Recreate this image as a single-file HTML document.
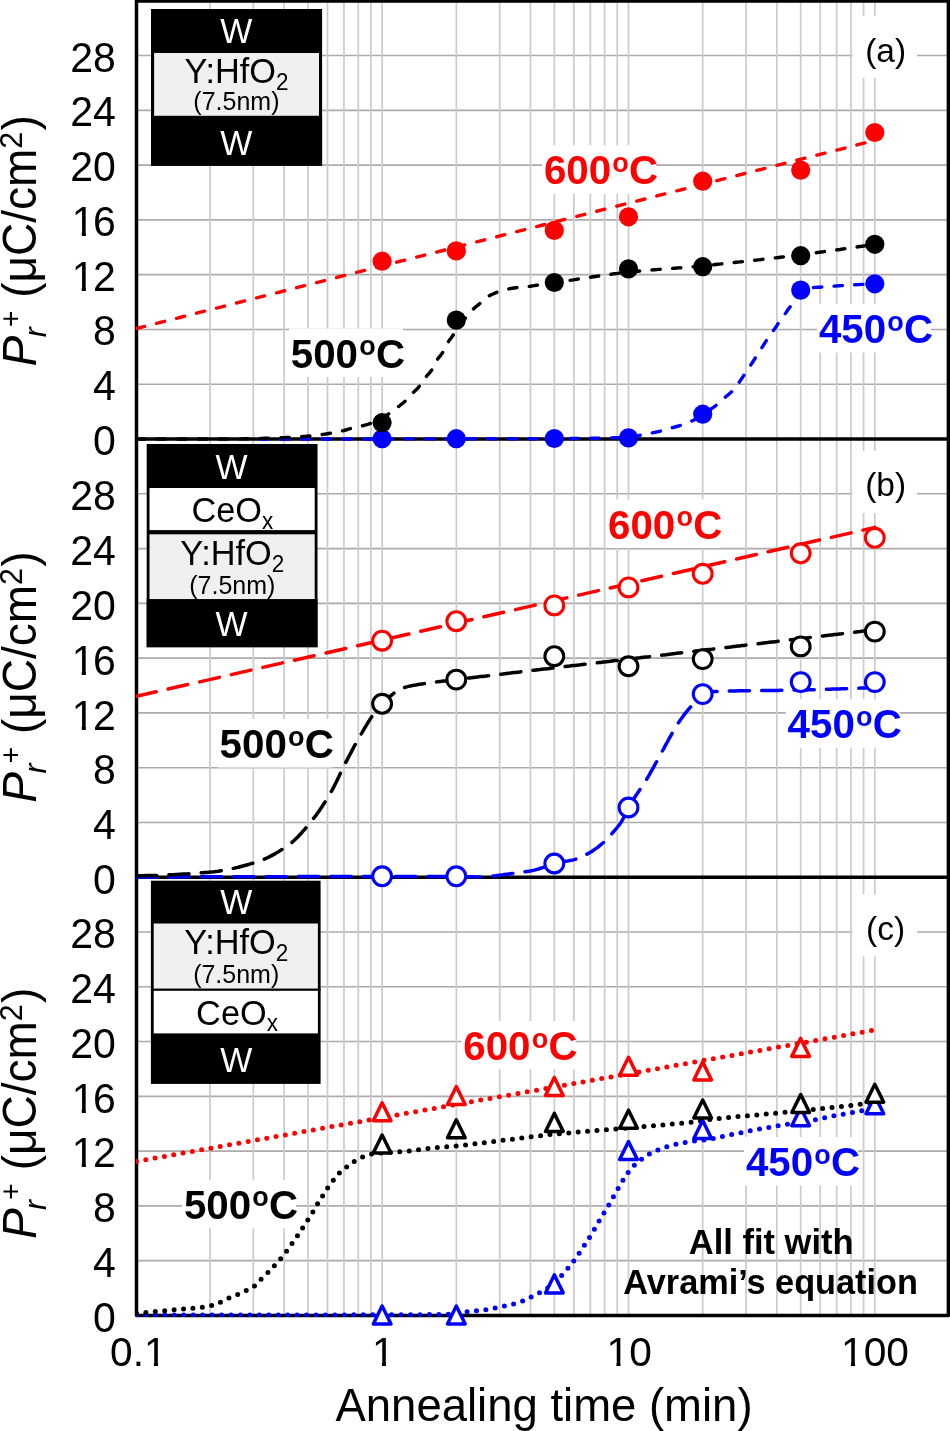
<!DOCTYPE html>
<html lang="en"><head><meta charset="utf-8"><title>Pr+ vs annealing time</title>
<style>html,body{margin:0;padding:0;background:#fff}svg{display:block}</style></head>
<body>
<svg width="950" height="1431" viewBox="0 0 950 1431" font-family="'Liberation Sans', sans-serif">
<rect width="950" height="1431" fill="#fff"/>
<path d="M136.5 384.22H948.4M136.5 329.45H948.4M136.5 274.67H948.4M136.5 219.90H948.4M136.5 165.12H948.4M136.5 110.34H948.4M136.5 55.57H948.4M136.5 822.47H948.4M136.5 767.70H948.4M136.5 712.92H948.4M136.5 658.15H948.4M136.5 603.37H948.4M136.5 548.59H948.4M136.5 493.82H948.4M136.5 1260.67H948.4M136.5 1205.90H948.4M136.5 1151.12H948.4M136.5 1096.35H948.4M136.5 1041.57H948.4M136.5 986.79H948.4M136.5 932.02H948.4" stroke="#aeaaac" stroke-width="1.6" fill="none"/>
<path d="M209.96 0.9V1315.45M253.34 0.9V1315.45M284.12 0.9V1315.45M307.99 0.9V1315.45M327.50 0.9V1315.45M343.99 0.9V1315.45M358.28 0.9V1315.45M370.88 0.9V1315.45M382.15 0.9V1315.45M456.31 0.9V1315.45M499.69 0.9V1315.45M530.47 0.9V1315.45M554.34 0.9V1315.45M573.85 0.9V1315.45M590.34 0.9V1315.45M604.63 0.9V1315.45M617.23 0.9V1315.45M628.50 0.9V1315.45M702.66 0.9V1315.45M746.04 0.9V1315.45M776.82 0.9V1315.45M800.69 0.9V1315.45M820.20 0.9V1315.45M836.69 0.9V1315.45M850.98 0.9V1315.45M863.58 0.9V1315.45M874.85 0.9V1315.45" stroke="#cdcacc" stroke-width="1.7" fill="none"/>
<rect x="852.5" y="16" width="64.5" height="62" fill="#fff"/>
<rect x="852.5" y="451" width="64.5" height="62" fill="#fff"/>
<rect x="852.5" y="894.5" width="64.5" height="62" fill="#fff"/>
<rect x="542.0999999999999" y="145.2" width="114" height="48.5" fill="#fff"/>
<rect x="289.0" y="328.6" width="114" height="48.5" fill="#fff"/>
<rect x="817.0999999999999" y="304.0" width="114" height="48.5" fill="#fff"/>
<rect x="606.1999999999999" y="499.5" width="114" height="48.5" fill="#fff"/>
<rect x="217.8" y="719.0" width="114" height="48.5" fill="#fff"/>
<rect x="785.8" y="699.3" width="114" height="48.5" fill="#fff"/>
<rect x="461.5" y="1021.0" width="114" height="48.5" fill="#fff"/>
<rect x="182.10000000000002" y="1179.8" width="114" height="48.5" fill="#fff"/>
<rect x="744.0999999999999" y="1137.0" width="114" height="48.5" fill="#fff"/>
<rect x="151" y="9" width="171.1" height="156.7" fill="#000"/>
<rect x="154.1" y="53" width="164.9" height="63" fill="#f0f0f0"/>
<text transform="translate(236.4 82.5) scale(1 1.04)" font-size="34.3" fill="#000" text-anchor="middle" >Y:HfO<tspan font-size="22.5" dy="7.1">2</tspan></text>
<text transform="translate(236.4 110.1) scale(1 1.04)" font-size="25" fill="#000" text-anchor="middle" >(7.5nm)</text>
<rect x="151" y="115.8" width="171.1" height="49.9" fill="#000"/>
<text transform="translate(236.4 43.2) scale(1 1.04)" font-size="34" fill="#fff" text-anchor="middle" >W</text>
<text transform="translate(236.4 154.7) scale(1 1.04)" font-size="34" fill="#fff" text-anchor="middle" >W</text>
<rect x="146.7" y="444" width="170.8" height="203.2" fill="#000"/>
<rect x="149.5" y="488" width="165.2" height="42.1" fill="#fff"/>
<rect x="149.5" y="534.3" width="165.2" height="65" fill="#f0f0f0"/>
<text transform="translate(232.3 522.3) scale(1 1.04)" font-size="34.3" fill="#000" text-anchor="middle" >CeO<tspan font-size="22.5" dy="6.3">x</tspan></text>
<text transform="translate(232.3 564.8) scale(1 1.04)" font-size="34.3" fill="#000" text-anchor="middle" >Y:HfO<tspan font-size="22.5" dy="7.1">2</tspan></text>
<text transform="translate(232.3 593.5) scale(1 1.04)" font-size="25" fill="#000" text-anchor="middle" >(7.5nm)</text>
<rect x="146.7" y="599.2" width="170.8" height="48" fill="#000"/>
<text transform="translate(231.5 478.7) scale(1 1.04)" font-size="34" fill="#fff" text-anchor="middle" >W</text>
<text transform="translate(231.5 636) scale(1 1.04)" font-size="34" fill="#fff" text-anchor="middle" >W</text>
<rect x="150.9" y="880.7" width="169.7" height="203.2" fill="#000"/>
<rect x="153.7" y="923.5" width="164.2" height="65.3" fill="#f0f0f0"/>
<text transform="translate(236.2 954) scale(1 1.04)" font-size="34.3" fill="#000" text-anchor="middle" >Y:HfO<tspan font-size="22.5" dy="7.1">2</tspan></text>
<text transform="translate(236.2 982.8) scale(1 1.04)" font-size="25" fill="#000" text-anchor="middle" >(7.5nm)</text>
<rect x="150.9" y="988.7" width="169.7" height="2.2" fill="#000"/>
<rect x="153.7" y="990.8" width="164.2" height="42.6" fill="#fff"/>
<text transform="translate(237 1024.5) scale(1 1.04)" font-size="34.3" fill="#000" text-anchor="middle" >CeO<tspan font-size="22.5" dy="6.3">x</tspan></text>
<text transform="translate(236.2 914) scale(1 1.04)" font-size="34" fill="#fff" text-anchor="middle" >W</text>
<text transform="translate(236.2 1071.9) scale(1 1.04)" font-size="34" fill="#fff" text-anchor="middle" >W</text>
<path d="M136.5 0.9H948.4V1315.45H136.5Z M136.5 439.0H948.4 M136.5 877.25H948.4" stroke="#000" stroke-width="3.5" fill="none" stroke-linejoin="round"/>
<defs><clipPath id="plotclip"><rect x="136.1" y="0" width="815" height="1316.9"/></clipPath><clipPath id="clipba"><rect x="258" y="0" width="700" height="445"/></clipPath></defs>
<path d="M136.5 439.0L138.4 439.0L140.2 439.0L142.1 439.0L143.9 439.0L145.8 439.0L147.6 439.0L149.5 439.0L151.3 439.0L153.2 439.0L155.0 439.0L156.9 439.0L158.7 439.0L160.6 439.0L162.4 439.0L164.3 439.0L166.1 439.0L168.0 439.0L169.8 439.0L171.7 439.0L173.5 439.0L175.4 439.0L177.2 439.0L179.1 439.0L180.9 439.0L182.8 439.0L184.6 439.0L186.5 439.0L188.3 439.0L190.2 439.0L192.0 439.0L193.9 439.0L195.7 439.0L197.6 439.0L199.4 439.0L201.3 439.0L203.1 439.0L205.0 439.0L206.8 439.0L208.7 439.0L210.5 439.0L212.4 439.0L214.2 439.0L216.1 439.0L217.9 439.0L219.8 439.0L221.6 439.0L223.5 439.0L225.3 439.0L227.2 439.0L229.0 439.0L230.9 439.0L232.7 439.0L234.6 439.0L236.4 439.0L238.3 439.0L240.1 439.0L242.0 439.0L243.8 439.0L245.7 439.0L247.5 439.0L249.4 439.0L251.2 439.0L253.1 439.0L254.9 439.0L256.8 439.0L258.6 439.0L260.5 439.0L262.3 439.0L264.2 439.0L266.0 439.0L267.9 439.0L269.7 439.0L271.6 439.0L273.4 439.0L275.3 439.0L277.1 439.0L279.0 439.0L280.8 439.0L282.7 439.0L284.5 439.0L286.4 439.0L288.2 439.0L290.1 439.0L291.9 439.0L293.8 439.0L295.6 439.0L297.5 439.0L299.3 439.0L301.2 439.0L303.0 439.0L304.9 439.0L306.7 439.0L308.6 439.0L310.4 439.0L312.3 439.0L314.1 439.0L316.0 439.0L317.8 439.0L319.7 439.0L321.6 439.0L323.4 439.0L325.3 439.0L327.1 439.0L329.0 439.0L330.8 439.0L332.7 439.0L334.5 439.0L336.4 439.0L338.2 439.0L340.1 439.0L341.9 439.0L343.8 439.0L345.6 439.0L347.5 439.0L349.3 439.0L351.2 439.0L353.0 439.0L354.9 439.0L356.7 439.0L358.6 439.0L360.4 439.0L362.3 439.0L364.1 439.0L366.0 439.0L367.8 439.0L369.7 439.0L371.5 439.0L373.4 439.0L375.2 439.0L377.1 439.0L378.9 439.0L380.8 439.0L382.6 439.0L384.5 439.0L386.3 439.0L388.2 439.0L390.0 439.0L391.9 438.9L393.7 438.9L395.6 438.9L397.4 438.9L399.3 438.9L401.1 438.9L403.0 438.9L404.8 438.9L406.7 438.9L408.5 438.9L410.4 438.9L412.2 438.9L414.1 438.9L415.9 438.9L417.8 438.9L419.6 438.9L421.5 438.9L423.3 438.9L425.2 438.9L427.0 438.9L428.9 438.9L430.7 438.9L432.6 438.9L434.4 438.9L436.3 438.9L438.1 438.9L440.0 438.9L441.8 438.9L443.7 438.9L445.5 438.9L447.4 438.9L449.2 438.9L451.1 438.9L452.9 438.9L454.8 438.9L456.6 438.8L458.5 438.8L460.3 438.8L462.2 438.8L464.0 438.8L465.9 438.8L467.7 438.8L469.6 438.8L471.4 438.8L473.3 438.8L475.1 438.8L477.0 438.8L478.8 438.8L480.7 438.8L482.5 438.8L484.4 438.8L486.2 438.8L488.1 438.8L489.9 438.8L491.8 438.8L493.6 438.8L495.5 438.8L497.3 438.8L499.2 438.8L501.0 438.8L502.9 438.7L504.7 438.7L506.6 438.7L508.5 438.7L510.3 438.7L512.2 438.7L514.0 438.7L515.9 438.7L517.7 438.7L519.6 438.7L521.4 438.7L523.3 438.7L525.1 438.7L527.0 438.7L528.8 438.7L530.7 438.7L532.5 438.7L534.4 438.7L536.2 438.7L538.1 438.7L539.9 438.6L541.8 438.6L543.6 438.6L545.5 438.6L547.3 438.6L549.2 438.6L551.0 438.6L552.9 438.6L554.7 438.6L556.6 438.6L558.4 438.6L560.3 438.6L562.1 438.6L564.0 438.6L565.8 438.5L567.7 438.5L569.5 438.5L571.4 438.5L573.2 438.5L575.1 438.5L576.9 438.5L578.8 438.5L580.6 438.4L582.5 438.4L584.3 438.4L586.2 438.4L588.0 438.4L589.9 438.3L591.7 438.3L593.6 438.3L595.4 438.3L597.3 438.2L599.1 438.2L601.0 438.2L602.8 438.1L604.7 438.1L606.5 438.1L608.4 438.0L610.2 437.9L612.1 437.9L613.9 437.8L615.8 437.7L617.6 437.6L619.5 437.6L621.3 437.5L623.2 437.3L625.0 437.2L626.9 437.1L628.7 437.0L630.6 436.8L632.4 436.6L634.3 436.3L636.1 436.0L638.0 435.7L639.8 435.3L641.7 434.9L643.5 434.6L645.4 434.2L647.2 433.8L649.1 433.5L650.9 433.1L652.8 432.8L654.6 432.4L656.5 432.0L658.3 431.6L660.2 431.1L662.0 430.5L663.9 430.0L665.7 429.4L667.6 428.8L669.4 428.4L671.3 427.9L673.1 427.5L675.0 427.0L676.8 426.5L678.7 426.0L680.5 425.4L682.4 424.7L684.2 424.1L686.1 423.4L687.9 422.7L689.8 421.9L691.7 421.1L693.5 420.2L695.4 419.3L697.2 418.3L699.1 417.2L700.9 416.0L702.8 414.7L704.6 413.5L706.5 412.3L708.3 411.0L710.2 409.7L712.0 408.4L713.9 407.0L715.7 405.6L717.6 404.2L719.4 402.7L721.3 401.0L723.1 399.3L725.0 397.5L726.8 395.8L728.7 394.3L730.5 392.7L732.4 391.0L734.2 389.0L736.1 386.6L737.9 384.0L739.8 381.4L741.6 378.7L743.5 375.9L745.3 373.1L747.2 370.4L749.0 367.6L750.9 364.8L752.7 362.0L754.6 359.1L756.4 356.1L758.3 353.1L760.1 350.2L762.0 347.5L763.8 344.7L765.7 341.7L767.5 338.7L769.4 335.9L771.2 333.4L773.1 331.1L774.9 328.6L776.8 325.7L778.6 322.8L780.5 320.1L782.3 317.6L784.2 315.2L786.0 312.6L787.9 309.8L789.7 307.3L791.6 305.2L793.4 303.3L795.3 301.2L797.1 297.8L799.0 293.1L800.8 290.3L802.7 289.3L804.5 288.7L806.4 288.3L808.2 288.1L810.1 287.9L811.9 287.7L813.8 287.5L815.6 287.4L817.5 287.3L819.3 287.2L821.2 287.1L823.0 286.9L824.9 286.8L826.7 286.7L828.6 286.5L830.4 286.4L832.3 286.3L834.1 286.1L836.0 286.0L837.8 285.9L839.7 285.7L841.5 285.6L843.4 285.5L845.2 285.4L847.1 285.3L848.9 285.1L850.8 285.0L852.6 284.9L854.5 284.8L856.3 284.7L858.2 284.6L860.0 284.5L861.9 284.4L863.7 284.3L865.6 284.2L867.4 284.1L869.3 284.0L871.1 284.0L873.0 283.9L874.8 283.8" stroke="#0000ff" fill="none" stroke-width="3.4" stroke-dasharray="8.3 12.35" stroke-linecap="round" stroke-linejoin="round" clip-path="url(#clipba)"/>
<path d="M136.5 439.0L138.4 439.0L140.2 439.0L142.1 439.0L143.9 439.0L145.8 439.0L147.6 439.0L149.5 439.0L151.3 439.0L153.2 439.0L155.0 439.0L156.9 439.0L158.7 439.0L160.6 439.0L162.4 439.0L164.3 439.0L166.1 439.0L168.0 439.0L169.8 439.0L171.7 439.0L173.5 439.0L175.4 439.0L177.2 439.0L179.1 439.0L180.9 439.0L182.8 439.0L184.6 439.0L186.5 439.0L188.3 439.0L190.2 439.0L192.0 439.0L193.9 439.0L195.7 439.0L197.6 439.0L199.4 439.0L201.3 439.0L203.1 439.0L205.0 439.0L206.8 439.0L208.7 439.0L210.5 439.0L212.4 439.0L214.2 439.0L216.1 439.0L217.9 439.0L219.8 439.0L221.6 439.0L223.5 439.0L225.3 439.0L227.2 439.0L229.0 438.9L230.9 438.9L232.7 438.9L234.6 438.9L236.4 438.9L238.3 438.9L240.1 438.9L242.0 438.9L243.8 438.9L245.7 438.8L247.5 438.8L249.4 438.8L251.2 438.7L253.1 438.7L254.9 438.6L256.8 438.6L258.6 438.5L260.5 438.4L262.3 438.4L264.2 438.3L266.0 438.3L267.9 438.2L269.7 438.2L271.6 438.1L273.4 438.0L275.3 438.0L277.1 437.9L279.0 437.8L280.8 437.7L282.7 437.6L284.5 437.6L286.4 437.5L288.2 437.4L290.1 437.3L291.9 437.2L293.8 437.1L295.6 437.0L297.5 436.9L299.3 436.8L301.2 436.6L303.0 436.5L304.9 436.4L306.7 436.2L308.6 436.0L310.4 435.9L312.3 435.7L314.1 435.5L316.0 435.3L317.8 435.1L319.7 434.9L321.6 434.6L323.4 434.4L325.3 434.1L327.1 433.8L329.0 433.5L330.8 433.2L332.7 432.9L334.5 432.5L336.4 432.2L338.2 431.8L340.1 431.4L341.9 431.0L343.8 430.5L345.6 430.0L347.5 429.5L349.3 428.9L351.2 428.4L353.0 427.9L354.9 427.5L356.7 427.1L358.6 426.6L360.4 426.2L362.3 425.8L364.1 425.3L366.0 424.8L367.8 424.3L369.7 423.7L371.5 423.1L373.4 422.3L375.2 421.5L377.1 420.7L378.9 419.7L380.8 418.8L382.6 417.7L384.5 416.6L386.3 415.5L388.2 414.2L390.0 412.9L391.9 411.6L393.7 410.2L395.6 408.8L397.4 407.4L399.3 406.0L401.1 404.5L403.0 403.0L404.8 401.4L406.7 399.6L408.5 397.6L410.4 395.5L412.2 393.6L414.1 391.8L415.9 390.0L417.8 388.2L419.6 386.1L421.5 383.6L423.3 380.7L425.2 377.9L427.0 375.7L428.9 373.6L430.7 371.4L432.6 368.7L434.4 364.8L436.3 361.1L438.1 358.4L440.0 356.1L441.8 353.8L443.7 350.9L445.5 347.1L447.4 343.4L449.2 340.5L451.1 337.9L452.9 335.4L454.8 332.9L456.6 330.3L458.5 327.7L460.3 325.0L462.2 322.4L464.0 319.9L465.9 317.4L467.7 315.0L469.6 312.8L471.4 310.8L473.3 309.0L475.1 307.4L477.0 305.9L478.8 304.4L480.7 302.7L482.5 301.0L484.4 299.2L486.2 297.7L488.1 296.4L489.9 295.4L491.8 294.5L493.6 293.7L495.5 292.9L497.3 292.2L499.2 291.6L501.0 291.0L502.9 290.4L504.7 289.9L506.6 289.5L508.5 289.0L510.3 288.6L512.2 288.3L514.0 288.0L515.9 287.7L517.7 287.5L519.6 287.4L521.4 287.2L523.3 287.0L525.1 286.9L527.0 286.7L528.8 286.4L530.7 286.2L532.5 285.9L534.4 285.6L536.2 285.3L538.1 285.0L539.9 284.8L541.8 284.5L543.6 284.2L545.5 284.0L547.3 283.7L549.2 283.4L551.0 283.2L552.9 282.9L554.7 282.6L556.6 282.4L558.4 282.1L560.3 281.8L562.1 281.6L564.0 281.3L565.8 281.0L567.7 280.7L569.5 280.4L571.4 280.1L573.2 279.9L575.1 279.6L576.9 279.3L578.8 279.0L580.6 278.7L582.5 278.4L584.3 278.1L586.2 277.9L588.0 277.6L589.9 277.3L591.7 277.0L593.6 276.7L595.4 276.5L597.3 276.2L599.1 275.9L601.0 275.6L602.8 275.4L604.7 275.1L606.5 274.8L608.4 274.6L610.2 274.3L612.1 274.1L613.9 273.8L615.8 273.6L617.6 273.4L619.5 273.1L621.3 272.9L623.2 272.7L625.0 272.5L626.9 272.3L628.7 272.1L630.6 271.9L632.4 271.7L634.3 271.5L636.1 271.3L638.0 271.2L639.8 271.0L641.7 270.8L643.5 270.6L645.4 270.5L647.2 270.3L649.1 270.2L650.9 270.0L652.8 269.9L654.6 269.7L656.5 269.6L658.3 269.4L660.2 269.3L662.0 269.1L663.9 269.0L665.7 268.9L667.6 268.7L669.4 268.6L671.3 268.4L673.1 268.3L675.0 268.2L676.8 268.0L678.7 267.9L680.5 267.7L682.4 267.6L684.2 267.4L686.1 267.3L687.9 267.1L689.8 267.0L691.7 266.8L693.5 266.7L695.4 266.5L697.2 266.3L699.1 266.1L700.9 266.0L702.8 265.8L704.6 265.6L706.5 265.4L708.3 265.2L710.2 265.1L712.0 264.9L713.9 264.7L715.7 264.5L717.6 264.3L719.4 264.1L721.3 263.9L723.1 263.7L725.0 263.5L726.8 263.3L728.7 263.1L730.5 262.9L732.4 262.7L734.2 262.5L736.1 262.3L737.9 262.1L739.8 261.9L741.6 261.7L743.5 261.5L745.3 261.3L747.2 261.1L749.0 260.9L750.9 260.7L752.7 260.5L754.6 260.3L756.4 260.1L758.3 259.9L760.1 259.7L762.0 259.4L763.8 259.2L765.7 259.0L767.5 258.8L769.4 258.6L771.2 258.3L773.1 258.1L774.9 257.9L776.8 257.7L778.6 257.5L780.5 257.2L782.3 257.0L784.2 256.8L786.0 256.6L787.9 256.3L789.7 256.1L791.6 255.9L793.4 255.6L795.3 255.4L797.1 255.2L799.0 254.9L800.8 254.7L802.7 254.5L804.5 254.2L806.4 254.0L808.2 253.7L810.1 253.5L811.9 253.2L813.8 253.0L815.6 252.8L817.5 252.5L819.3 252.3L821.2 252.0L823.0 251.8L824.9 251.5L826.7 251.3L828.6 251.0L830.4 250.8L832.3 250.5L834.1 250.2L836.0 250.0L837.8 249.7L839.7 249.5L841.5 249.2L843.4 248.9L845.2 248.7L847.1 248.4L848.9 248.1L850.8 247.9L852.6 247.6L854.5 247.3L856.3 247.1L858.2 246.8L860.0 246.5L861.9 246.3L863.7 246.0L865.6 245.7L867.4 245.4L869.3 245.1L871.1 244.9L873.0 244.6L874.8 244.3" stroke="#000000" fill="none" stroke-width="3.4" stroke-dasharray="8.3 12.35" stroke-linecap="round" stroke-linejoin="round" clip-path="url(#plotclip)"/>
<path d="M136.5 328.5L874.8499999999999 140.4" stroke="#ff0000" fill="none" stroke-width="3.4" stroke-dasharray="8.3 12.35" stroke-linecap="round" stroke-linejoin="round" clip-path="url(#plotclip)"/>
<path d="M136.5 877.0L138.4 877.0L140.2 877.0L142.1 877.0L143.9 877.0L145.8 877.0L147.6 877.0L149.5 877.0L151.3 876.9L153.2 876.9L155.0 876.9L156.9 876.9L158.7 876.9L160.6 876.9L162.4 876.9L164.3 876.9L166.1 876.9L168.0 876.9L169.8 876.9L171.7 876.9L173.5 876.9L175.4 876.9L177.2 876.9L179.1 876.9L180.9 876.9L182.8 876.9L184.6 876.8L186.5 876.8L188.3 876.8L190.2 876.8L192.0 876.8L193.9 876.8L195.7 876.8L197.6 876.8L199.4 876.8L201.3 876.8L203.1 876.8L205.0 876.8L206.8 876.8L208.7 876.8L210.5 876.8L212.4 876.8L214.2 876.8L216.1 876.8L217.9 876.8L219.8 876.8L221.6 876.8L223.5 876.8L225.3 876.8L227.2 876.7L229.0 876.7L230.9 876.7L232.7 876.7L234.6 876.7L236.4 876.7L238.3 876.7L240.1 876.7L242.0 876.7L243.8 876.7L245.7 876.7L247.5 876.7L249.4 876.7L251.2 876.7L253.1 876.7L254.9 876.7L256.8 876.7L258.6 876.7L260.5 876.7L262.3 876.7L264.2 876.7L266.0 876.7L267.9 876.7L269.7 876.7L271.6 876.7L273.4 876.7L275.3 876.7L277.1 876.7L279.0 876.7L280.8 876.7L282.7 876.7L284.5 876.7L286.4 876.7L288.2 876.7L290.1 876.7L291.9 876.7L293.8 876.7L295.6 876.7L297.5 876.6L299.3 876.6L301.2 876.6L303.0 876.6L304.9 876.6L306.7 876.6L308.6 876.6L310.4 876.6L312.3 876.6L314.1 876.6L316.0 876.6L317.8 876.6L319.7 876.6L321.6 876.6L323.4 876.6L325.3 876.6L327.1 876.6L329.0 876.6L330.8 876.6L332.7 876.6L334.5 876.6L336.4 876.6L338.2 876.6L340.1 876.6L341.9 876.6L343.8 876.6L345.6 876.6L347.5 876.6L349.3 876.6L351.2 876.6L353.0 876.6L354.9 876.6L356.7 876.6L358.6 876.6L360.4 876.6L362.3 876.6L364.1 876.6L366.0 876.6L367.8 876.6L369.7 876.6L371.5 876.6L373.4 876.6L375.2 876.6L377.1 876.6L378.9 876.6L380.8 876.6L382.6 876.6L384.5 876.6L386.3 876.6L388.2 876.6L390.0 876.6L391.9 876.6L393.7 876.6L395.6 876.6L397.4 876.6L399.3 876.6L401.1 876.6L403.0 876.6L404.8 876.6L406.7 876.6L408.5 876.6L410.4 876.6L412.2 876.6L414.1 876.6L415.9 876.6L417.8 876.6L419.6 876.6L421.5 876.6L423.3 876.6L425.2 876.6L427.0 876.6L428.9 876.6L430.7 876.6L432.6 876.6L434.4 876.6L436.3 876.6L438.1 876.6L440.0 876.6L441.8 876.6L443.7 876.6L445.5 876.6L447.4 876.6L449.2 876.6L451.1 876.6L452.9 876.6L454.8 876.6L456.6 876.6L458.5 876.6L460.3 876.6L462.2 876.6L464.0 876.7L465.9 876.7L467.7 876.7L469.6 876.8L471.4 876.8L473.3 876.8L475.1 876.9L477.0 876.9L478.8 876.9L480.7 876.9L482.5 876.9L484.4 876.8L486.2 876.7L488.1 876.6L489.9 876.4L491.8 876.2L493.6 876.0L495.5 875.8L497.3 875.5L499.2 875.3L501.0 875.0L502.9 874.8L504.7 874.5L506.6 874.2L508.5 874.0L510.3 873.7L512.2 873.5L514.0 873.3L515.9 873.0L517.7 872.8L519.6 872.6L521.4 872.3L523.3 872.1L525.1 871.8L527.0 871.5L528.8 871.2L530.7 870.9L532.5 870.5L534.4 870.1L536.2 869.6L538.1 869.1L539.9 868.5L541.8 867.9L543.6 867.4L545.5 866.7L547.3 866.0L549.2 865.2L551.0 864.4L552.9 863.7L554.7 863.2L556.6 862.8L558.4 862.4L560.3 862.1L562.1 861.8L564.0 861.5L565.8 861.2L567.7 861.0L569.5 860.6L571.4 860.3L573.2 859.9L575.1 859.4L576.9 858.8L578.8 858.0L580.6 857.1L582.5 856.2L584.3 855.4L586.2 854.5L588.0 853.6L589.9 852.6L591.7 851.5L593.6 850.2L595.4 848.9L597.3 847.6L599.1 846.1L601.0 844.6L602.8 843.0L604.7 841.2L606.5 839.3L608.4 837.4L610.2 835.4L612.1 833.4L613.9 831.3L615.8 829.2L617.6 827.0L619.5 824.6L621.3 821.9L623.2 818.6L625.0 814.7L626.9 810.7L628.7 807.1L630.6 803.9L632.4 800.9L634.3 798.0L636.1 795.2L638.0 792.4L639.8 789.7L641.7 787.0L643.5 784.3L645.4 781.4L647.2 778.3L649.1 775.1L650.9 771.9L652.8 768.6L654.6 765.2L656.5 761.9L658.3 758.6L660.2 755.2L662.0 751.8L663.9 748.3L665.7 744.9L667.6 741.5L669.4 738.2L671.3 734.8L673.1 731.4L675.0 728.1L676.8 725.2L678.7 722.4L680.5 719.7L682.4 717.2L684.2 714.7L686.1 712.3L687.9 710.0L689.8 707.8L691.7 705.5L693.5 703.0L695.4 700.7L697.2 698.4L699.1 696.5L700.9 695.0L702.8 694.1L704.6 693.5L706.5 692.9L708.3 692.4L710.2 692.1L712.0 691.8L713.9 691.6L715.7 691.5L717.6 691.4L719.4 691.3L721.3 691.3L723.1 691.2L725.0 691.1L726.8 691.1L728.7 691.0L730.5 691.0L732.4 691.0L734.2 690.9L736.1 690.9L737.9 690.8L739.8 690.8L741.6 690.8L743.5 690.7L745.3 690.7L747.2 690.7L749.0 690.7L750.9 690.6L752.7 690.6L754.6 690.6L756.4 690.6L758.3 690.6L760.1 690.5L762.0 690.5L763.8 690.5L765.7 690.5L767.5 690.5L769.4 690.4L771.2 690.4L773.1 690.4L774.9 690.4L776.8 690.4L778.6 690.4L780.5 690.3L782.3 690.3L784.2 690.3L786.0 690.3L787.9 690.2L789.7 690.2L791.6 690.2L793.4 690.1L795.3 690.1L797.1 690.1L799.0 690.0L800.8 690.0L802.7 690.0L804.5 689.9L806.4 689.9L808.2 689.8L810.1 689.8L811.9 689.7L813.8 689.7L815.6 689.6L817.5 689.6L819.3 689.5L821.2 689.5L823.0 689.4L824.9 689.3L826.7 689.3L828.6 689.2L830.4 689.2L832.3 689.1L834.1 689.0L836.0 689.0L837.8 688.9L839.7 688.9L841.5 688.8L843.4 688.7L845.2 688.7L847.1 688.6L848.9 688.5L850.8 688.4L852.6 688.4L854.5 688.3L856.3 688.2L858.2 688.2L860.0 688.1L861.9 688.0L863.7 687.9L865.6 687.9L867.4 687.8L869.3 687.7L871.1 687.7L873.0 687.6L874.8 687.5" stroke="#0000ff" fill="none" stroke-width="3.5" stroke-dasharray="20.2 12.2" stroke-linecap="round" stroke-linejoin="round" clip-path="url(#plotclip)"/>
<path d="M136.5 875.7L138.4 875.7L140.2 875.7L142.1 875.7L143.9 875.7L145.8 875.6L147.6 875.6L149.5 875.6L151.3 875.5L153.2 875.5L155.0 875.4L156.9 875.4L158.7 875.3L160.6 875.2L162.4 875.2L164.3 875.1L166.1 875.0L168.0 874.9L169.8 874.8L171.7 874.7L173.5 874.7L175.4 874.6L177.2 874.5L179.1 874.3L180.9 874.2L182.8 874.1L184.6 874.0L186.5 873.9L188.3 873.8L190.2 873.6L192.0 873.5L193.9 873.4L195.7 873.2L197.6 873.1L199.4 873.0L201.3 872.8L203.1 872.7L205.0 872.5L206.8 872.4L208.7 872.2L210.5 872.1L212.4 871.9L214.2 871.7L216.1 871.4L217.9 871.2L219.8 870.9L221.6 870.6L223.5 870.3L225.3 870.0L227.2 869.6L229.0 869.3L230.9 868.9L232.7 868.5L234.6 868.1L236.4 867.6L238.3 867.2L240.1 866.7L242.0 866.2L243.8 865.7L245.7 865.2L247.5 864.7L249.4 864.2L251.2 863.6L253.1 863.1L254.9 862.5L256.8 861.9L258.6 861.3L260.5 860.7L262.3 859.9L264.2 859.2L266.0 858.4L267.9 857.5L269.7 856.6L271.6 855.6L273.4 854.6L275.3 853.6L277.1 852.5L279.0 851.4L280.8 850.2L282.7 849.0L284.5 847.8L286.4 846.5L288.2 845.2L290.1 843.9L291.9 842.4L293.8 840.8L295.6 839.1L297.5 837.2L299.3 835.3L301.2 833.3L303.0 831.2L304.9 829.1L306.7 826.9L308.6 824.7L310.4 822.4L312.3 820.1L314.1 817.7L316.0 815.3L317.8 812.7L319.7 810.1L321.6 807.3L323.4 804.5L325.3 801.6L327.1 798.6L329.0 795.6L330.8 792.4L332.7 789.1L334.5 785.5L336.4 781.8L338.2 778.0L340.1 774.1L341.9 770.2L343.8 766.3L345.6 762.6L347.5 759.1L349.3 755.6L351.2 752.1L353.0 748.6L354.9 745.2L356.7 741.9L358.6 738.6L360.4 735.3L362.3 732.2L364.1 729.0L366.0 725.9L367.8 722.8L369.7 719.9L371.5 717.1L373.4 714.5L375.2 712.1L377.1 709.7L378.9 707.5L380.8 705.4L382.6 703.4L384.5 701.5L386.3 699.7L388.2 697.9L390.0 696.3L391.9 694.8L393.7 693.4L395.6 691.9L397.4 690.6L399.3 689.5L401.1 688.6L403.0 687.9L404.8 687.4L406.7 686.9L408.5 686.4L410.4 686.0L412.2 685.6L414.1 685.3L415.9 685.0L417.8 684.6L419.6 684.3L421.5 684.1L423.3 683.8L425.2 683.5L427.0 683.2L428.9 682.9L430.7 682.7L432.6 682.4L434.4 682.2L436.3 681.9L438.1 681.7L440.0 681.5L441.8 681.3L443.7 681.1L445.5 680.9L447.4 680.6L449.2 680.4L451.1 680.2L452.9 680.0L454.8 679.8L456.6 679.6L458.5 679.3L460.3 679.1L462.2 678.9L464.0 678.7L465.9 678.4L467.7 678.2L469.6 678.0L471.4 677.7L473.3 677.5L475.1 677.3L477.0 677.1L478.8 676.8L480.7 676.6L482.5 676.4L484.4 676.2L486.2 676.0L488.1 675.7L489.9 675.5L491.8 675.3L493.6 675.1L495.5 674.8L497.3 674.6L499.2 674.4L501.0 674.2L502.9 674.0L504.7 673.7L506.6 673.5L508.5 673.3L510.3 673.1L512.2 672.8L514.0 672.6L515.9 672.4L517.7 672.2L519.6 672.0L521.4 671.7L523.3 671.5L525.1 671.3L527.0 671.1L528.8 670.9L530.7 670.7L532.5 670.4L534.4 670.2L536.2 670.0L538.1 669.8L539.9 669.6L541.8 669.3L543.6 669.1L545.5 668.9L547.3 668.7L549.2 668.5L551.0 668.2L552.9 668.0L554.7 667.8L556.6 667.6L558.4 667.4L560.3 667.2L562.1 666.9L564.0 666.7L565.8 666.5L567.7 666.3L569.5 666.1L571.4 665.8L573.2 665.6L575.1 665.4L576.9 665.2L578.8 665.0L580.6 664.8L582.5 664.5L584.3 664.3L586.2 664.1L588.0 663.9L589.9 663.7L591.7 663.5L593.6 663.2L595.4 663.0L597.3 662.8L599.1 662.6L601.0 662.4L602.8 662.1L604.7 661.9L606.5 661.7L608.4 661.5L610.2 661.3L612.1 661.0L613.9 660.8L615.8 660.6L617.6 660.4L619.5 660.2L621.3 660.0L623.2 659.7L625.0 659.5L626.9 659.3L628.7 659.1L630.6 658.9L632.4 658.6L634.3 658.4L636.1 658.2L638.0 658.0L639.8 657.8L641.7 657.5L643.5 657.3L645.4 657.1L647.2 656.9L649.1 656.7L650.9 656.4L652.8 656.2L654.6 656.0L656.5 655.8L658.3 655.5L660.2 655.3L662.0 655.1L663.9 654.9L665.7 654.7L667.6 654.4L669.4 654.2L671.3 654.0L673.1 653.8L675.0 653.6L676.8 653.3L678.7 653.1L680.5 652.9L682.4 652.7L684.2 652.5L686.1 652.2L687.9 652.0L689.8 651.8L691.7 651.6L693.5 651.4L695.4 651.1L697.2 650.9L699.1 650.7L700.9 650.5L702.8 650.3L704.6 650.0L706.5 649.8L708.3 649.6L710.2 649.4L712.0 649.2L713.9 648.9L715.7 648.7L717.6 648.5L719.4 648.3L721.3 648.1L723.1 647.8L725.0 647.6L726.8 647.4L728.7 647.2L730.5 647.0L732.4 646.7L734.2 646.5L736.1 646.3L737.9 646.1L739.8 645.9L741.6 645.6L743.5 645.4L745.3 645.2L747.2 645.0L749.0 644.8L750.9 644.5L752.7 644.3L754.6 644.1L756.4 643.9L758.3 643.7L760.1 643.4L762.0 643.2L763.8 643.0L765.7 642.8L767.5 642.6L769.4 642.3L771.2 642.1L773.1 641.9L774.9 641.7L776.8 641.5L778.6 641.2L780.5 641.0L782.3 640.8L784.2 640.6L786.0 640.4L787.9 640.1L789.7 639.9L791.6 639.7L793.4 639.5L795.3 639.3L797.1 639.0L799.0 638.8L800.8 638.6L802.7 638.4L804.5 638.2L806.4 637.9L808.2 637.7L810.1 637.5L811.9 637.3L813.8 637.1L815.6 636.8L817.5 636.6L819.3 636.4L821.2 636.2L823.0 636.0L824.9 635.7L826.7 635.5L828.6 635.3L830.4 635.1L832.3 634.9L834.1 634.6L836.0 634.4L837.8 634.2L839.7 634.0L841.5 633.8L843.4 633.5L845.2 633.3L847.1 633.1L848.9 632.9L850.8 632.7L852.6 632.4L854.5 632.2L856.3 632.0L858.2 631.8L860.0 631.6L861.9 631.3L863.7 631.1L865.6 630.9L867.4 630.7L869.3 630.5L871.1 630.2L873.0 630.0L874.8 629.8" stroke="#000000" fill="none" stroke-width="3.5" stroke-dasharray="20.2 12.2" stroke-linecap="round" stroke-linejoin="round" clip-path="url(#plotclip)"/>
<path d="M136.5 696.3L874.8499999999999 527.4" stroke="#ff0000" fill="none" stroke-width="3.5" stroke-dasharray="20.2 12.2" stroke-linecap="round" stroke-linejoin="round" clip-path="url(#plotclip)"/>
<path d="M136.5 1315.0L138.4 1315.0L140.2 1315.0L142.1 1315.0L143.9 1315.0L145.8 1315.0L147.6 1315.0L149.5 1315.0L151.3 1315.0L153.2 1315.0L155.0 1315.0L156.9 1315.0L158.7 1315.0L160.6 1315.0L162.4 1315.0L164.3 1315.0L166.1 1315.0L168.0 1315.0L169.8 1315.0L171.7 1315.0L173.5 1315.0L175.4 1315.0L177.2 1315.0L179.1 1315.0L180.9 1315.0L182.8 1315.0L184.6 1315.0L186.5 1315.0L188.3 1315.0L190.2 1315.0L192.0 1315.0L193.9 1315.0L195.7 1315.0L197.6 1315.0L199.4 1315.0L201.3 1315.0L203.1 1315.0L205.0 1315.0L206.8 1315.0L208.7 1315.0L210.5 1315.0L212.4 1315.0L214.2 1315.0L216.1 1315.0L217.9 1315.0L219.8 1315.0L221.6 1315.0L223.5 1315.0L225.3 1315.0L227.2 1315.0L229.0 1315.0L230.9 1315.0L232.7 1315.0L234.6 1315.0L236.4 1315.0L238.3 1315.0L240.1 1315.0L242.0 1315.0L243.8 1315.0L245.7 1315.0L247.5 1315.0L249.4 1315.0L251.2 1315.0L253.1 1315.0L254.9 1315.0L256.8 1315.0L258.6 1315.0L260.5 1315.0L262.3 1315.0L264.2 1315.0L266.0 1315.0L267.9 1315.0L269.7 1315.0L271.6 1315.0L273.4 1315.0L275.3 1314.9L277.1 1314.9L279.0 1314.9L280.8 1314.9L282.7 1314.9L284.5 1314.9L286.4 1314.9L288.2 1314.9L290.1 1314.9L291.9 1314.9L293.8 1314.9L295.6 1314.9L297.5 1314.9L299.3 1314.9L301.2 1314.9L303.0 1314.9L304.9 1314.9L306.7 1314.9L308.6 1314.9L310.4 1314.9L312.3 1314.9L314.1 1314.9L316.0 1314.9L317.8 1314.9L319.7 1314.9L321.6 1314.9L323.4 1314.9L325.3 1314.9L327.1 1314.9L329.0 1314.9L330.8 1314.9L332.7 1314.9L334.5 1314.9L336.4 1314.9L338.2 1314.9L340.1 1314.9L341.9 1314.9L343.8 1314.9L345.6 1314.9L347.5 1314.8L349.3 1314.8L351.2 1314.8L353.0 1314.8L354.9 1314.8L356.7 1314.8L358.6 1314.8L360.4 1314.8L362.3 1314.8L364.1 1314.8L366.0 1314.8L367.8 1314.8L369.7 1314.8L371.5 1314.8L373.4 1314.8L375.2 1314.8L377.1 1314.8L378.9 1314.8L380.8 1314.8L382.6 1314.8L384.5 1314.8L386.3 1314.8L388.2 1314.8L390.0 1314.8L391.9 1314.7L393.7 1314.7L395.6 1314.7L397.4 1314.7L399.3 1314.7L401.1 1314.7L403.0 1314.7L404.8 1314.7L406.7 1314.7L408.5 1314.7L410.4 1314.7L412.2 1314.7L414.1 1314.7L415.9 1314.7L417.8 1314.7L419.6 1314.7L421.5 1314.7L423.3 1314.7L425.2 1314.7L427.0 1314.6L428.9 1314.6L430.7 1314.6L432.6 1314.6L434.4 1314.6L436.3 1314.6L438.1 1314.6L440.0 1314.6L441.8 1314.6L443.7 1314.5L445.5 1314.4L447.4 1314.3L449.2 1314.1L451.1 1313.9L452.9 1313.7L454.8 1313.5L456.6 1313.2L458.5 1313.0L460.3 1312.8L462.2 1312.5L464.0 1312.3L465.9 1312.0L467.7 1311.8L469.6 1311.6L471.4 1311.4L473.3 1311.2L475.1 1311.0L477.0 1310.8L478.8 1310.6L480.7 1310.3L482.5 1310.1L484.4 1309.8L486.2 1309.6L488.1 1309.3L489.9 1309.0L491.8 1308.6L493.6 1308.3L495.5 1308.0L497.3 1307.6L499.2 1307.2L501.0 1306.8L502.9 1306.4L504.7 1306.0L506.6 1305.6L508.5 1305.2L510.3 1304.7L512.2 1304.3L514.0 1303.8L515.9 1303.2L517.7 1302.7L519.6 1302.2L521.4 1301.5L523.3 1300.9L525.1 1300.1L527.0 1299.3L528.8 1298.3L530.7 1297.3L532.5 1296.4L534.4 1295.4L536.2 1294.4L538.1 1293.5L539.9 1292.5L541.8 1291.4L543.6 1290.4L545.5 1289.3L547.3 1288.3L549.2 1287.1L551.0 1285.9L552.9 1284.6L554.7 1283.1L556.6 1281.3L558.4 1279.2L560.3 1277.1L562.1 1274.9L564.0 1272.8L565.8 1270.8L567.7 1268.6L569.5 1266.4L571.4 1264.1L573.2 1261.7L575.1 1259.2L576.9 1256.6L578.8 1253.8L580.6 1251.1L582.5 1248.3L584.3 1245.5L586.2 1242.6L588.0 1239.7L589.9 1236.8L591.7 1233.8L593.6 1230.7L595.4 1227.6L597.3 1224.4L599.1 1221.1L601.0 1218.0L602.8 1214.9L604.7 1211.8L606.5 1208.7L608.4 1205.6L610.2 1202.4L612.1 1199.1L613.9 1195.8L615.8 1192.5L617.6 1189.3L619.5 1186.1L621.3 1183.0L623.2 1179.9L625.0 1177.0L626.9 1174.3L628.7 1171.7L630.6 1169.4L632.4 1167.2L634.3 1165.3L636.1 1163.5L638.0 1161.9L639.8 1160.4L641.7 1159.1L643.5 1157.8L645.4 1156.5L647.2 1155.3L649.1 1154.2L650.9 1153.2L652.8 1152.2L654.6 1151.3L656.5 1150.5L658.3 1149.7L660.2 1148.9L662.0 1148.3L663.9 1147.6L665.7 1147.0L667.6 1146.5L669.4 1145.9L671.3 1145.4L673.1 1144.9L675.0 1144.4L676.8 1144.0L678.7 1143.6L680.5 1143.2L682.4 1142.9L684.2 1142.6L686.1 1142.2L687.9 1141.9L689.8 1141.6L691.7 1141.3L693.5 1141.1L695.4 1140.8L697.2 1140.6L699.1 1140.5L700.9 1140.3L702.8 1140.1L704.6 1139.9L706.5 1139.6L708.3 1139.4L710.2 1139.1L712.0 1138.8L713.9 1138.5L715.7 1138.0L717.6 1137.6L719.4 1137.2L721.3 1136.7L723.1 1136.3L725.0 1135.9L726.8 1135.4L728.7 1135.0L730.5 1134.7L732.4 1134.3L734.2 1134.0L736.1 1133.7L737.9 1133.3L739.8 1132.9L741.6 1132.6L743.5 1132.2L745.3 1131.8L747.2 1131.4L749.0 1131.0L750.9 1130.7L752.7 1130.3L754.6 1129.9L756.4 1129.6L758.3 1129.3L760.1 1128.9L762.0 1128.6L763.8 1128.3L765.7 1127.9L767.5 1127.6L769.4 1127.3L771.2 1126.9L773.1 1126.6L774.9 1126.3L776.8 1126.0L778.6 1125.8L780.5 1125.5L782.3 1125.2L784.2 1124.9L786.0 1124.6L787.9 1124.3L789.7 1124.0L791.6 1123.7L793.4 1123.4L795.3 1123.2L797.1 1122.9L799.0 1122.6L800.8 1122.3L802.7 1122.0L804.5 1121.7L806.4 1121.4L808.2 1121.1L810.1 1120.8L811.9 1120.5L813.8 1120.2L815.6 1119.8L817.5 1119.4L819.3 1119.0L821.2 1118.5L823.0 1118.1L824.9 1117.7L826.7 1117.3L828.6 1116.9L830.4 1116.5L832.3 1116.2L834.1 1115.8L836.0 1115.5L837.8 1115.1L839.7 1114.8L841.5 1114.4L843.4 1114.1L845.2 1113.7L847.1 1113.3L848.9 1113.0L850.8 1112.7L852.6 1112.4L854.5 1112.0L856.3 1111.7L858.2 1111.4L860.0 1111.0L861.9 1110.7L863.7 1110.3L865.6 1110.0L867.4 1109.7L869.3 1109.3L871.1 1109.0L873.0 1108.6L874.8 1108.3" stroke="#0000ff" fill="none" stroke-width="5.0" stroke-dasharray="0 9.45" stroke-linecap="round" stroke-linejoin="round" clip-path="url(#plotclip)"/>
<path d="M136.5 1313.5L138.4 1313.3L140.2 1313.1L142.1 1312.9L143.9 1312.7L145.8 1312.5L147.6 1312.3L149.5 1312.1L151.3 1312.0L153.2 1311.8L155.0 1311.6L156.9 1311.4L158.7 1311.3L160.6 1311.1L162.4 1310.9L164.3 1310.7L166.1 1310.6L168.0 1310.4L169.8 1310.2L171.7 1310.0L173.5 1309.9L175.4 1309.7L177.2 1309.5L179.1 1309.4L180.9 1309.2L182.8 1309.1L184.6 1309.0L186.5 1308.8L188.3 1308.6L190.2 1308.5L192.0 1308.3L193.9 1308.1L195.7 1307.9L197.6 1307.7L199.4 1307.5L201.3 1307.3L203.1 1307.0L205.0 1306.8L206.8 1306.5L208.7 1306.2L210.5 1305.8L212.4 1305.4L214.2 1304.9L216.1 1304.2L217.9 1303.4L219.8 1302.6L221.6 1301.8L223.5 1300.9L225.3 1300.0L227.2 1299.0L229.0 1298.1L230.9 1297.3L232.7 1296.6L234.6 1295.9L236.4 1295.1L238.3 1294.3L240.1 1293.5L242.0 1292.6L243.8 1291.7L245.7 1290.8L247.5 1289.8L249.4 1288.9L251.2 1287.9L253.1 1286.8L254.9 1285.6L256.8 1283.9L258.6 1281.9L260.5 1279.8L262.3 1277.9L264.2 1276.1L266.0 1274.4L267.9 1272.6L269.7 1270.7L271.6 1268.8L273.4 1266.8L275.3 1264.7L277.1 1262.7L279.0 1260.6L280.8 1258.5L282.7 1256.2L284.5 1253.9L286.4 1251.5L288.2 1249.0L290.1 1246.4L291.9 1243.8L293.8 1241.2L295.6 1238.5L297.5 1235.8L299.3 1233.1L301.2 1230.2L303.0 1227.4L304.9 1224.6L306.7 1221.7L308.6 1218.8L310.4 1216.0L312.3 1213.1L314.1 1209.9L316.0 1206.6L317.8 1203.4L319.7 1200.4L321.6 1197.5L323.4 1194.6L325.3 1191.6L327.1 1188.7L329.0 1186.0L330.8 1183.5L332.7 1181.1L334.5 1178.8L336.4 1176.5L338.2 1174.4L340.1 1172.4L341.9 1170.7L343.8 1169.2L345.6 1167.8L347.5 1166.4L349.3 1165.0L351.2 1163.6L353.0 1162.2L354.9 1161.0L356.7 1160.0L358.6 1158.9L360.4 1158.0L362.3 1157.2L364.1 1156.4L366.0 1155.8L367.8 1155.1L369.7 1154.6L371.5 1154.1L373.4 1153.8L375.2 1153.5L377.1 1153.3L378.9 1153.1L380.8 1152.9L382.6 1152.8L384.5 1152.6L386.3 1152.5L388.2 1152.4L390.0 1152.3L391.9 1152.2L393.7 1152.1L395.6 1152.0L397.4 1151.9L399.3 1151.8L401.1 1151.7L403.0 1151.5L404.8 1151.4L406.7 1151.2L408.5 1151.0L410.4 1150.8L412.2 1150.6L414.1 1150.3L415.9 1150.1L417.8 1149.8L419.6 1149.5L421.5 1149.3L423.3 1149.0L425.2 1148.8L427.0 1148.6L428.9 1148.3L430.7 1148.2L432.6 1148.0L434.4 1147.8L436.3 1147.6L438.1 1147.5L440.0 1147.3L441.8 1147.2L443.7 1147.0L445.5 1146.9L447.4 1146.7L449.2 1146.6L451.1 1146.4L452.9 1146.2L454.8 1146.0L456.6 1145.9L458.5 1145.7L460.3 1145.5L462.2 1145.3L464.0 1145.1L465.9 1144.9L467.7 1144.7L469.6 1144.5L471.4 1144.3L473.3 1144.1L475.1 1143.8L477.0 1143.6L478.8 1143.4L480.7 1143.2L482.5 1142.9L484.4 1142.7L486.2 1142.5L488.1 1142.2L489.9 1142.0L491.8 1141.8L493.6 1141.5L495.5 1141.3L497.3 1141.1L499.2 1140.8L501.0 1140.6L502.9 1140.3L504.7 1140.1L506.6 1139.9L508.5 1139.6L510.3 1139.4L512.2 1139.2L514.0 1138.9L515.9 1138.7L517.7 1138.4L519.6 1138.2L521.4 1138.0L523.3 1137.7L525.1 1137.5L527.0 1137.3L528.8 1137.1L530.7 1136.8L532.5 1136.6L534.4 1136.4L536.2 1136.2L538.1 1136.0L539.9 1135.7L541.8 1135.5L543.6 1135.3L545.5 1135.1L547.3 1134.9L549.2 1134.7L551.0 1134.5L552.9 1134.3L554.7 1134.2L556.6 1134.0L558.4 1133.8L560.3 1133.6L562.1 1133.5L564.0 1133.3L565.8 1133.1L567.7 1133.0L569.5 1132.8L571.4 1132.6L573.2 1132.5L575.1 1132.3L576.9 1132.1L578.8 1132.0L580.6 1131.8L582.5 1131.7L584.3 1131.5L586.2 1131.4L588.0 1131.2L589.9 1131.1L591.7 1130.9L593.6 1130.8L595.4 1130.6L597.3 1130.5L599.1 1130.3L601.0 1130.2L602.8 1130.0L604.7 1129.9L606.5 1129.7L608.4 1129.6L610.2 1129.4L612.1 1129.3L613.9 1129.1L615.8 1129.0L617.6 1128.8L619.5 1128.7L621.3 1128.5L623.2 1128.4L625.0 1128.2L626.9 1128.0L628.7 1127.9L630.6 1127.7L632.4 1127.6L634.3 1127.4L636.1 1127.2L638.0 1127.1L639.8 1126.9L641.7 1126.8L643.5 1126.6L645.4 1126.5L647.2 1126.3L649.1 1126.1L650.9 1126.0L652.8 1125.8L654.6 1125.7L656.5 1125.5L658.3 1125.4L660.2 1125.2L662.0 1125.0L663.9 1124.9L665.7 1124.7L667.6 1124.5L669.4 1124.4L671.3 1124.2L673.1 1124.0L675.0 1123.9L676.8 1123.7L678.7 1123.5L680.5 1123.3L682.4 1123.1L684.2 1122.9L686.1 1122.7L687.9 1122.5L689.8 1122.3L691.7 1122.1L693.5 1121.9L695.4 1121.6L697.2 1121.4L699.1 1121.1L700.9 1120.9L702.8 1120.6L704.6 1120.3L706.5 1120.0L708.3 1119.8L710.2 1119.5L712.0 1119.3L713.9 1119.0L715.7 1118.8L717.6 1118.6L719.4 1118.4L721.3 1118.2L723.1 1118.0L725.0 1117.8L726.8 1117.6L728.7 1117.5L730.5 1117.3L732.4 1117.1L734.2 1117.0L736.1 1116.8L737.9 1116.6L739.8 1116.5L741.6 1116.3L743.5 1116.2L745.3 1116.0L747.2 1115.8L749.0 1115.7L750.9 1115.5L752.7 1115.3L754.6 1115.2L756.4 1115.0L758.3 1114.8L760.1 1114.7L762.0 1114.5L763.8 1114.3L765.7 1114.1L767.5 1114.0L769.4 1113.8L771.2 1113.6L773.1 1113.5L774.9 1113.3L776.8 1113.1L778.6 1112.9L780.5 1112.8L782.3 1112.6L784.2 1112.4L786.0 1112.2L787.9 1112.0L789.7 1111.9L791.6 1111.7L793.4 1111.5L795.3 1111.3L797.1 1111.1L799.0 1110.9L800.8 1110.8L802.7 1110.6L804.5 1110.4L806.4 1110.2L808.2 1110.0L810.1 1109.8L811.9 1109.6L813.8 1109.4L815.6 1109.2L817.5 1109.0L819.3 1108.8L821.2 1108.6L823.0 1108.4L824.9 1108.2L826.7 1108.0L828.6 1107.8L830.4 1107.6L832.3 1107.4L834.1 1107.2L836.0 1107.0L837.8 1106.8L839.7 1106.6L841.5 1106.4L843.4 1106.2L845.2 1106.0L847.1 1105.8L848.9 1105.6L850.8 1105.4L852.6 1105.2L854.5 1105.0L856.3 1104.8L858.2 1104.5L860.0 1104.3L861.9 1104.1L863.7 1103.9L865.6 1103.7L867.4 1103.5L869.3 1103.3L871.1 1103.0L873.0 1102.8L874.8 1102.6" stroke="#000000" fill="none" stroke-width="5.0" stroke-dasharray="0 9.45" stroke-linecap="round" stroke-linejoin="round" clip-path="url(#plotclip)"/>
<path d="M136.5 1161.4L874.6 1030.0" stroke="#ff0000" fill="none" stroke-width="5.0" stroke-dasharray="0 9.45" stroke-linecap="round" stroke-linejoin="round" clip-path="url(#plotclip)"/>
<circle cx="382.1" cy="438.7" r="9.6" fill="#0000ff"/>
<circle cx="456.3" cy="438.7" r="9.6" fill="#0000ff"/>
<circle cx="554.3" cy="438.5" r="9.6" fill="#0000ff"/>
<circle cx="628.5" cy="437.9" r="9.6" fill="#0000ff"/>
<circle cx="702.7" cy="414.2" r="9.6" fill="#0000ff"/>
<circle cx="800.7" cy="290.1" r="9.6" fill="#0000ff"/>
<circle cx="874.8" cy="283.8" r="9.6" fill="#0000ff"/>
<circle cx="382.1" cy="422.7" r="9.6" fill="#000000"/>
<circle cx="456.3" cy="320.1" r="9.6" fill="#000000"/>
<circle cx="554.3" cy="282.5" r="9.6" fill="#000000"/>
<circle cx="628.5" cy="268.9" r="9.6" fill="#000000"/>
<circle cx="702.7" cy="266.7" r="9.6" fill="#000000"/>
<circle cx="800.7" cy="255.7" r="9.6" fill="#000000"/>
<circle cx="874.8" cy="244.3" r="9.6" fill="#000000"/>
<circle cx="382.1" cy="261.2" r="9.6" fill="#ff0000"/>
<circle cx="456.3" cy="250.9" r="9.6" fill="#ff0000"/>
<circle cx="554.3" cy="230.4" r="9.6" fill="#ff0000"/>
<circle cx="628.5" cy="216.8" r="9.6" fill="#ff0000"/>
<circle cx="702.7" cy="181.2" r="9.6" fill="#ff0000"/>
<circle cx="800.7" cy="170.1" r="9.6" fill="#ff0000"/>
<circle cx="874.8" cy="132.5" r="9.6" fill="#ff0000"/>
<circle cx="382.1" cy="876.3" r="9.4" fill="#fff" stroke="#0000ff" stroke-width="3.05"/>
<circle cx="456.3" cy="876.3" r="9.4" fill="#fff" stroke="#0000ff" stroke-width="3.05"/>
<circle cx="554.3" cy="863.5" r="9.4" fill="#fff" stroke="#0000ff" stroke-width="3.05"/>
<circle cx="628.5" cy="807.5" r="9.4" fill="#fff" stroke="#0000ff" stroke-width="3.05"/>
<circle cx="702.7" cy="694.1" r="9.4" fill="#fff" stroke="#0000ff" stroke-width="3.05"/>
<circle cx="800.7" cy="682.1" r="9.4" fill="#fff" stroke="#0000ff" stroke-width="3.05"/>
<circle cx="874.8" cy="682.1" r="9.4" fill="#fff" stroke="#0000ff" stroke-width="3.05"/>
<circle cx="382.1" cy="703.8" r="9.4" fill="#fff" stroke="#000000" stroke-width="3.05"/>
<circle cx="456.3" cy="679.6" r="9.4" fill="#fff" stroke="#000000" stroke-width="3.05"/>
<circle cx="554.3" cy="656.2" r="9.4" fill="#fff" stroke="#000000" stroke-width="3.05"/>
<circle cx="628.5" cy="666.3" r="9.4" fill="#fff" stroke="#000000" stroke-width="3.05"/>
<circle cx="702.7" cy="659.1" r="9.4" fill="#fff" stroke="#000000" stroke-width="3.05"/>
<circle cx="800.7" cy="646.4" r="9.4" fill="#fff" stroke="#000000" stroke-width="3.05"/>
<circle cx="874.8" cy="631.6" r="9.4" fill="#fff" stroke="#000000" stroke-width="3.05"/>
<circle cx="382.1" cy="640.7" r="9.4" fill="#fff" stroke="#ff0000" stroke-width="3.05"/>
<circle cx="456.3" cy="621.2" r="9.4" fill="#fff" stroke="#ff0000" stroke-width="3.05"/>
<circle cx="554.3" cy="605.4" r="9.4" fill="#fff" stroke="#ff0000" stroke-width="3.05"/>
<circle cx="628.5" cy="587.4" r="9.4" fill="#fff" stroke="#ff0000" stroke-width="3.05"/>
<circle cx="702.7" cy="573.8" r="9.4" fill="#fff" stroke="#ff0000" stroke-width="3.05"/>
<circle cx="800.7" cy="553.3" r="9.4" fill="#fff" stroke="#ff0000" stroke-width="3.05"/>
<circle cx="874.8" cy="537.8" r="9.4" fill="#fff" stroke="#ff0000" stroke-width="3.05"/>
<path d="M382.1 1306.0L391.0 1324.0H373.3Z" fill="#fff" stroke="#0000ff" stroke-width="3.5" stroke-linejoin="round"/>
<path d="M456.3 1306.0L465.2 1324.0H447.5Z" fill="#fff" stroke="#0000ff" stroke-width="3.5" stroke-linejoin="round"/>
<path d="M554.3 1274.9L563.2 1292.9H545.5Z" fill="#fff" stroke="#0000ff" stroke-width="3.5" stroke-linejoin="round"/>
<path d="M628.5 1141.6L637.4 1159.5H619.6Z" fill="#fff" stroke="#0000ff" stroke-width="3.5" stroke-linejoin="round"/>
<path d="M702.7 1120.5L711.5 1138.5H693.8Z" fill="#fff" stroke="#0000ff" stroke-width="3.5" stroke-linejoin="round"/>
<path d="M800.7 1107.8L809.5 1125.8H791.8Z" fill="#fff" stroke="#0000ff" stroke-width="3.5" stroke-linejoin="round"/>
<path d="M874.8 1095.8L883.7 1113.8H866.0Z" fill="#fff" stroke="#0000ff" stroke-width="3.5" stroke-linejoin="round"/>
<path d="M382.1 1135.0L391.0 1153.0H373.3Z" fill="#fff" stroke="#000000" stroke-width="3.5" stroke-linejoin="round"/>
<path d="M456.3 1119.8L465.2 1137.8H447.5Z" fill="#fff" stroke="#000000" stroke-width="3.5" stroke-linejoin="round"/>
<path d="M554.3 1113.4L563.2 1131.4H545.5Z" fill="#fff" stroke="#000000" stroke-width="3.5" stroke-linejoin="round"/>
<path d="M628.5 1110.2L637.4 1128.2H619.6Z" fill="#fff" stroke="#000000" stroke-width="3.5" stroke-linejoin="round"/>
<path d="M702.7 1100.0L711.5 1118.0H693.8Z" fill="#fff" stroke="#000000" stroke-width="3.5" stroke-linejoin="round"/>
<path d="M800.7 1094.6L809.5 1112.5H791.8Z" fill="#fff" stroke="#000000" stroke-width="3.5" stroke-linejoin="round"/>
<path d="M874.8 1084.2L883.7 1102.2H866.0Z" fill="#fff" stroke="#000000" stroke-width="3.5" stroke-linejoin="round"/>
<path d="M382.1 1102.8L391.0 1120.8H373.3Z" fill="#fff" stroke="#ff0000" stroke-width="3.5" stroke-linejoin="round"/>
<path d="M456.3 1086.5L465.2 1104.5H447.5Z" fill="#fff" stroke="#ff0000" stroke-width="3.5" stroke-linejoin="round"/>
<path d="M554.3 1077.5L563.2 1095.5H545.5Z" fill="#fff" stroke="#ff0000" stroke-width="3.5" stroke-linejoin="round"/>
<path d="M628.5 1057.3L637.4 1075.2H619.6Z" fill="#fff" stroke="#ff0000" stroke-width="3.5" stroke-linejoin="round"/>
<path d="M702.7 1062.0L711.5 1080.0H693.8Z" fill="#fff" stroke="#ff0000" stroke-width="3.5" stroke-linejoin="round"/>
<path d="M800.7 1038.4L809.5 1056.4H791.8Z" fill="#fff" stroke="#ff0000" stroke-width="3.5" stroke-linejoin="round"/>
<text transform="translate(885.6 61.8) scale(1 1.0)" font-size="33.5" fill="#000" text-anchor="middle" >(a)</text>
<text transform="translate(885.6 495.5) scale(1 1.0)" font-size="33.5" fill="#000" text-anchor="middle" >(b)</text>
<text transform="translate(885.6 940.3) scale(1 1.0)" font-size="33.5" fill="#000" text-anchor="middle" >(c)</text>
<text transform="translate(543.9 184.2) scale(1 1.02)" font-size="40.3" fill="#ff0000" text-anchor="start" font-weight="bold">600<tspan font-size="27" dy="-12.2" dx="1.2">o</tspan><tspan dy="12.2" dx="0.3">C</tspan></text>
<text transform="translate(290.8 367.6) scale(1 1.02)" font-size="40.3" fill="#000000" text-anchor="start" font-weight="bold">500<tspan font-size="27" dy="-12.2" dx="1.2">o</tspan><tspan dy="12.2" dx="0.3">C</tspan></text>
<text transform="translate(818.9 343.0) scale(1 1.02)" font-size="40.3" fill="#0000ff" text-anchor="start" font-weight="bold">450<tspan font-size="27" dy="-12.2" dx="1.2">o</tspan><tspan dy="12.2" dx="0.3">C</tspan></text>
<text transform="translate(608.0 538.5) scale(1 1.02)" font-size="40.3" fill="#ff0000" text-anchor="start" font-weight="bold">600<tspan font-size="27" dy="-12.2" dx="1.2">o</tspan><tspan dy="12.2" dx="0.3">C</tspan></text>
<text transform="translate(219.6 758.0) scale(1 1.02)" font-size="40.3" fill="#000000" text-anchor="start" font-weight="bold">500<tspan font-size="27" dy="-12.2" dx="1.2">o</tspan><tspan dy="12.2" dx="0.3">C</tspan></text>
<text transform="translate(787.6 738.3) scale(1 1.02)" font-size="40.3" fill="#0000ff" text-anchor="start" font-weight="bold">450<tspan font-size="27" dy="-12.2" dx="1.2">o</tspan><tspan dy="12.2" dx="0.3">C</tspan></text>
<text transform="translate(463.3 1060.0) scale(1 1.02)" font-size="40.3" fill="#ff0000" text-anchor="start" font-weight="bold">600<tspan font-size="27" dy="-12.2" dx="1.2">o</tspan><tspan dy="12.2" dx="0.3">C</tspan></text>
<text transform="translate(183.9 1218.8) scale(1 1.02)" font-size="40.3" fill="#000000" text-anchor="start" font-weight="bold">500<tspan font-size="27" dy="-12.2" dx="1.2">o</tspan><tspan dy="12.2" dx="0.3">C</tspan></text>
<text transform="translate(745.9 1176.0) scale(1 1.02)" font-size="40.3" fill="#0000ff" text-anchor="start" font-weight="bold">450<tspan font-size="27" dy="-12.2" dx="1.2">o</tspan><tspan dy="12.2" dx="0.3">C</tspan></text>
<text transform="translate(771.2 1253.6) scale(1 1.03)" font-size="34.5" fill="#000" text-anchor="middle" font-weight="bold">All fit with</text>
<text transform="translate(770.6 1293.7) scale(1 1.03)" font-size="34.3" fill="#000" text-anchor="middle" font-weight="bold">Avrami’s equation</text>
<text transform="translate(115.8 455.0) scale(1 1.02)" font-size="41" fill="#000" text-anchor="end" >0</text>
<text transform="translate(115.8 400.2) scale(1 1.02)" font-size="41" fill="#000" text-anchor="end" >4</text>
<text transform="translate(115.8 345.4) scale(1 1.02)" font-size="41" fill="#000" text-anchor="end" >8</text>
<text transform="translate(70.21 290.7) scale(1 1.02)" font-size="41" fill="#000" text-anchor="start" ><tspan dx="1.6">1</tspan><tspan dx="-1.6">2</tspan></text>
<rect x="72.63" y="286.29" width="9.10" height="5.58" fill="#fff"/>
<rect x="85.87" y="286.29" width="8.61" height="5.58" fill="#fff"/>
<text transform="translate(70.21 235.9) scale(1 1.02)" font-size="41" fill="#000" text-anchor="start" ><tspan dx="1.6">1</tspan><tspan dx="-1.6">6</tspan></text>
<rect x="72.63" y="231.52" width="9.10" height="5.58" fill="#fff"/>
<rect x="85.87" y="231.52" width="8.61" height="5.58" fill="#fff"/>
<text transform="translate(115.8 181.1) scale(1 1.02)" font-size="41" fill="#000" text-anchor="end" >20</text>
<text transform="translate(115.8 126.3) scale(1 1.02)" font-size="41" fill="#000" text-anchor="end" >24</text>
<text transform="translate(115.8 71.6) scale(1 1.02)" font-size="41" fill="#000" text-anchor="end" >28</text>
<text transform="translate(115.8 893.9) scale(1 1.02)" font-size="41" fill="#000" text-anchor="end" >0</text>
<text transform="translate(115.8 839.1) scale(1 1.02)" font-size="41" fill="#000" text-anchor="end" >4</text>
<text transform="translate(115.8 784.3) scale(1 1.02)" font-size="41" fill="#000" text-anchor="end" >8</text>
<text transform="translate(70.21 729.5) scale(1 1.02)" font-size="41" fill="#000" text-anchor="start" ><tspan dx="1.6">1</tspan><tspan dx="-1.6">2</tspan></text>
<rect x="72.63" y="725.14" width="9.10" height="5.58" fill="#fff"/>
<rect x="85.87" y="725.14" width="8.61" height="5.58" fill="#fff"/>
<text transform="translate(70.21 674.7) scale(1 1.02)" font-size="41" fill="#000" text-anchor="start" ><tspan dx="1.6">1</tspan><tspan dx="-1.6">6</tspan></text>
<rect x="72.63" y="670.37" width="9.10" height="5.58" fill="#fff"/>
<rect x="85.87" y="670.37" width="8.61" height="5.58" fill="#fff"/>
<text transform="translate(115.8 620.0) scale(1 1.02)" font-size="41" fill="#000" text-anchor="end" >20</text>
<text transform="translate(115.8 565.2) scale(1 1.02)" font-size="41" fill="#000" text-anchor="end" >24</text>
<text transform="translate(115.8 510.4) scale(1 1.02)" font-size="41" fill="#000" text-anchor="end" >28</text>
<text transform="translate(115.8 1331.7) scale(1 1.02)" font-size="41" fill="#000" text-anchor="end" >0</text>
<text transform="translate(115.8 1276.9) scale(1 1.02)" font-size="41" fill="#000" text-anchor="end" >4</text>
<text transform="translate(115.8 1222.1) scale(1 1.02)" font-size="41" fill="#000" text-anchor="end" >8</text>
<text transform="translate(70.21 1167.3) scale(1 1.02)" font-size="41" fill="#000" text-anchor="start" ><tspan dx="1.6">1</tspan><tspan dx="-1.6">2</tspan></text>
<rect x="72.63" y="1162.94" width="9.10" height="5.58" fill="#fff"/>
<rect x="85.87" y="1162.94" width="8.61" height="5.58" fill="#fff"/>
<text transform="translate(70.21 1112.5) scale(1 1.02)" font-size="41" fill="#000" text-anchor="start" ><tspan dx="1.6">1</tspan><tspan dx="-1.6">6</tspan></text>
<rect x="72.63" y="1108.17" width="9.10" height="5.58" fill="#fff"/>
<rect x="85.87" y="1108.17" width="8.61" height="5.58" fill="#fff"/>
<text transform="translate(115.8 1057.8) scale(1 1.02)" font-size="41" fill="#000" text-anchor="end" >20</text>
<text transform="translate(115.8 1003.0) scale(1 1.02)" font-size="41" fill="#000" text-anchor="end" >24</text>
<text transform="translate(115.8 948.2) scale(1 1.02)" font-size="41" fill="#000" text-anchor="end" >28</text>
<text transform="translate(138.4 1365.8) scale(1 1.02)" font-size="40.7" fill="#000" text-anchor="middle" >0.1</text>
<rect x="144.87" y="1361.45" width="9.04" height="5.55" fill="#fff"/>
<rect x="158.02" y="1361.45" width="8.55" height="5.55" fill="#fff"/>
<text transform="translate(383.3 1365.8) scale(1 1.02)" font-size="40.7" fill="#000" text-anchor="middle" >1</text>
<rect x="372.85" y="1361.45" width="9.04" height="5.55" fill="#fff"/>
<rect x="386.00" y="1361.45" width="8.55" height="5.55" fill="#fff"/>
<text transform="translate(629.2 1365.8) scale(1 1.02)" font-size="40.7" fill="#000" text-anchor="middle" >10</text>
<rect x="607.38" y="1361.45" width="9.04" height="5.55" fill="#fff"/>
<rect x="620.53" y="1361.45" width="8.55" height="5.55" fill="#fff"/>
<text transform="translate(875.0 1365.8) scale(1 1.02)" font-size="40.7" fill="#000" text-anchor="middle" >100</text>
<rect x="841.92" y="1361.45" width="9.04" height="5.55" fill="#fff"/>
<rect x="855.07" y="1361.45" width="8.55" height="5.55" fill="#fff"/>
<text transform="translate(544 1421.4) scale(1 1.02)" font-size="45.5" fill="#000" text-anchor="middle" >Annealing time (min)</text>
<text transform="translate(36.2 366.5) rotate(-90) scale(1 1.04)" font-size="46"><tspan font-style="italic">P</tspan><tspan font-style="italic" font-size="30" dy="9.6" dx="-1.5">r</tspan><tspan font-size="28" dy="-24.3" dx="0.3">+</tspan><tspan dy="14.7" dx="0.2"> (</tspan><tspan dx="0">μC/cm</tspan><tspan font-size="30.5" dy="-13.6">2</tspan><tspan dy="13.6" dx="1.2">)</tspan></text>
<text transform="translate(36.2 802.8) rotate(-90) scale(1 1.04)" font-size="46"><tspan font-style="italic">P</tspan><tspan font-style="italic" font-size="30" dy="9.6" dx="-1.5">r</tspan><tspan font-size="28" dy="-24.3" dx="0.3">+</tspan><tspan dy="14.7" dx="0.2"> (</tspan><tspan dx="0">μC/cm</tspan><tspan font-size="30.5" dy="-13.6">2</tspan><tspan dy="13.6" dx="1.2">)</tspan></text>
<text transform="translate(36.2 1239.1) rotate(-90) scale(1 1.04)" font-size="46"><tspan font-style="italic">P</tspan><tspan font-style="italic" font-size="30" dy="9.6" dx="-1.5">r</tspan><tspan font-size="28" dy="-24.3" dx="0.3">+</tspan><tspan dy="14.7" dx="0.2"> (</tspan><tspan dx="0">μC/cm</tspan><tspan font-size="30.5" dy="-13.6">2</tspan><tspan dy="13.6" dx="1.2">)</tspan></text>
</svg>
</body></html>
